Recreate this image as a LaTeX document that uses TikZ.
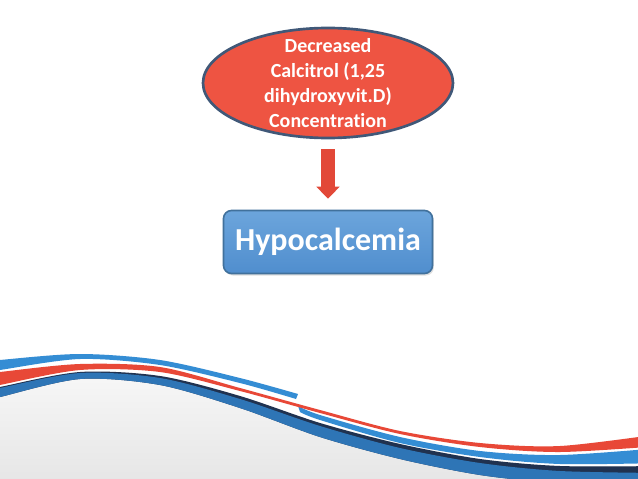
\documentclass[tikz,border=0pt]{standalone}
\usepackage{fontspec}
\setmainfont[Ligatures=NoCommon]{Carlito}
\usetikzlibrary{arrows.meta, shapes.geometric, shadows, positioning}
\definecolor{redfill}{RGB}{238,84,66}
\definecolor{redarrow}{RGB}{226,72,56}
\definecolor{slateedge}{RGB}{64,88,120}
\definecolor{boxedge}{RGB}{65,113,156}
\definecolor{boxtop}{RGB}{108,165,220}
\definecolor{boxbottom}{RGB}{80,142,206}
\definecolor{swooshlight}{RGB}{52,141,212}
\definecolor{swooshred}{RGB}{232,72,55}
\definecolor{swooshblue}{RGB}{46,117,182}
\definecolor{swooshnavy}{RGB}{32,50,80}
\tikzset{
  cause/.style={ellipse,draw=slateedge,line width=2pt,fill=redfill,minimum width=187.5pt,minimum height=82.5pt,inner sep=0pt},
  causetext/.style={text=white,font=\bfseries\fontsize{15}{18.75}\selectfont,align=center},
  effect/.style={rectangle,rounded corners=6pt,draw=boxedge,line width=1.2pt,top color=boxtop,bottom color=boxbottom,
    minimum width=156.75pt,minimum height=47.25pt,text=white,font=\bfseries\fontsize{24}{28}\selectfont,
    drop shadow={opacity=0.25,shadow xshift=1pt,shadow yshift=-1.5pt}},
  leadsto/.style={line width=10.5pt,draw=redarrow,-{Triangle[length=9pt,width=17pt]},shorten <=7.5pt,shorten >=8.25pt}
}

\begin{document}
\begin{tikzpicture}[x=0.75pt,y=-0.75pt]

% page
\fill[white] (0,0) rectangle (638,478);
\useasboundingbox (0,0) rectangle (638,478);

% swooshes at the bottom
\begin{scope}
\clip (0,0) rectangle (638,478);
\shade[top color=gray!6,bottom color=gray!22] plot[smooth] coordinates {(-20,392) (0,387) (80,372) (160,376) (240,396) (320,423) (400,444) (480,459) (560,466) (660,466)}
  -- (660,500) -- (-20,500) -- cycle;
\fill[swooshnavy] plot[smooth] coordinates {(-20,392) (0,387) (80,372) (160,376) (240,396) (320,423) (400,444) (480,459) (560,466) (660,466)}
  -- plot[smooth] coordinates {(660,495) (560,484) (480,475) (400,459) (320,437) (240,408) (160,385) (80,379) (0,397) (-20,402)} -- cycle;
\fill[swooshblue] plot[smooth] coordinates {(-20,393) (0,388) (80,373) (160,378) (240,399) (320,426) (400,448) (480,463) (560,471) (660,473)}
  -- plot[smooth] coordinates {(660,495) (560,484) (480,475) (400,459) (320,437) (240,408) (160,385) (80,379) (0,397) (-20,402)} -- cycle;
\fill[swooshlight] plot[smooth] coordinates {(-20,363) (0,360) (80,354) (160,360) (240,378) (298,394)}
  -- plot[smooth] coordinates {(296,399) (240,383) (160,365) (80,359) (0,370) (-20,374)} -- cycle;
\fill[swooshlight] plot[smooth] coordinates {(298,406) (320,415) (400,437) (480,451) (560,455) (660,448)}
  -- plot[smooth] coordinates {(660,463) (560,464) (480,457) (400,443) (320,420) (300,412)} -- cycle;
\fill[swooshred] plot[smooth] coordinates {(-20,375) (0,372) (80,364) (160,367) (240,388) (320,410) (400,431) (480,443) (560,446) (660,434)}
  -- plot[smooth] coordinates {(660,446) (560,452) (480,447) (400,434) (320,413) (240,391) (160,372) (80,370) (0,385) (-20,390)} -- cycle;
\end{scope}

% cause and effect
\node[cause] (calcitrol) at (328,83) {};
\node[causetext] (calcitroltext) at (calcitrol.center) {Decreased\\Calcitrol (1,25\\dihydroxyvit.D)\\Concentration};
\node[effect] (hypo) at (328,242) {Hypocalcemia};

\draw[leadsto] (calcitrol.south) -- (hypo.north);

\end{tikzpicture}
\end{document}
